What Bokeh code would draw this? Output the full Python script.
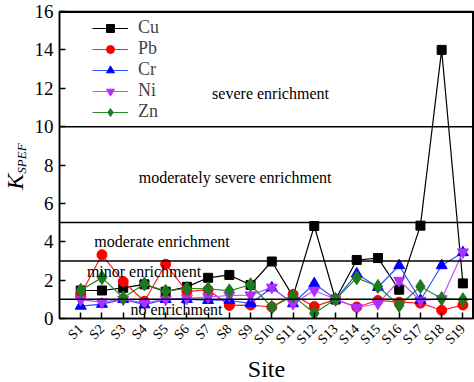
import math
from bokeh.plotting import figure
from bokeh.layouts import row, column
from bokeh.models import Span, Label, FixedTicker, Legend, LegendItem, Range1d
from bokeh.embed import file_html
from bokeh.resources import INLINE

sites = ["S1", "S2", "S3", "S4", "S5", "S6", "S7", "S8", "S9", "S10",
         "S11", "S12", "S13", "S14", "S15", "S16", "S17", "S18", "S19"]
cu = [1.46, 1.46, 1.6, 1.78, 1.4, 1.65, 2.12, 2.27, 1.75, 2.97, 1.15, 4.82, 0.99, 3.05, 3.15, 1.5, 4.84, 14.0, 1.83]
pb = [1.25, 3.32, 1.93, 0.9, 2.83, 1.4, 1.5, 0.68, 0.7, 0.6, 1.25, 0.62, 1.0, 0.6, 0.94, 0.85, 0.8, 0.43, 0.7]
cr = [0.65, 0.75, 1.0, 0.72, 1.0, 1.0, 0.95, 0.95, 0.78, 1.6, 0.78, 1.82, 1.0, 2.33, 1.63, 2.76, 0.95, 2.76, 3.44]
ni = [0.97, 0.85, 1.0, 0.82, 1.0, 1.05, 1.12, 1.2, 1.22, 1.62, 0.77, 1.46, 1.0, 0.56, 0.78, 1.98, 0.94, 1.02, 3.46]
zn = [1.47, 2.13, 1.08, 1.8, 1.42, 1.57, 1.55, 1.44, 1.76, 0.59, 1.18, 0.27, 1.0, 2.12, 1.67, 0.68, 1.67, 1.04, 0.98]
thresholds = [1, 3, 5, 10]
zone_labels = ["severe enrichment", "moderately severe enrichment", "moderate enrichment",
               "minor enrichment", "no enrichment"]

FONT = "'Liberation Serif', serif"
xs = list(range(1, len(sites) + 1))

YL_W = 30      # width of the y-title strip
TOP_H = 355    # height of the main row
X_MAX, Y_MAX = 19.5, 16

p = figure(width=474 - YL_W, height=TOP_H, output_backend="svg", toolbar_location=None,
           x_range=Range1d(0, X_MAX), y_range=Range1d(0, Y_MAX),
           min_border_left=59 - YL_W, min_border_right=1, min_border_top=11,
           min_border_bottom=37)
p.grid.visible = False
p.outline_line_color = "black"
p.outline_line_width = 1.5
p.background_fill_color = "white"

for ax in (p.xaxis[0], p.yaxis[0]):
    ax.axis_line_width = 1.5
    ax.major_tick_in = 6
    ax.major_tick_out = 0
    ax.minor_tick_in = 0
    ax.minor_tick_out = 0
    ax.major_tick_line_width = 1.5
    ax.major_label_text_font = FONT
    ax.major_label_text_color = "black"

p.yaxis.ticker = FixedTicker(ticks=[0, 2, 4, 6, 8, 10, 12, 14, 16])
p.yaxis.major_label_text_font_size = "19px"
p.yaxis.major_label_standoff = 6

p.xaxis.ticker = FixedTicker(ticks=xs)
p.xaxis.major_label_overrides = {i: s for i, s in zip(xs, sites)}
p.xaxis.major_label_orientation = math.pi / 4
p.xaxis.major_label_text_font_size = "14px"
p.xaxis.major_label_standoff = 8

# frame top / right border
p.add_layout(Span(location=Y_MAX, dimension="width", line_color="black", line_width=3))
p.add_layout(Span(location=X_MAX, dimension="height", line_color="black", line_width=3))
for t in thresholds:
    p.add_layout(Span(location=t, dimension="width", line_color="black", line_width=1.5))

series = [
    ("Cu", cu, "black", "black", "square", 9),
    ("Pb", pb, "#ff2020", "#ff0000", "circle", 10),
    ("Cr", cr, "#3050ff", "#0000ff", "triangle", 11),
    ("Ni", ni, "#c050ff", "#b030ff", "inverted_triangle", 11),
    ("Zn", zn, "#2a8a2a", "#1f7a1f", "diamond", 14),
]
items = []
for name, vals, lc, mc, marker, size in series:
    r1 = p.line(xs, vals, line_color=lc, line_width=1.2)
    r2 = p.scatter(xs, vals, marker=marker, size=size, fill_color=mc, line_color=mc)
    items.append(LegendItem(label=name, renderers=[r1, r2]))

legend = Legend(items=items, location=(33, 196), background_fill_alpha=0,
                border_line_alpha=0, padding=0, margin=0, spacing=0,
                glyph_width=36, glyph_height=20, label_height=20,
                label_standoff=10, label_text_font=FONT, label_text_font_size="18px")
p.add_layout(legend)

zone_pos = [(9.94, 11.72), (8.27, 7.35), (4.83, 4.03), (3.98, 2.45), (5.51, 0.45)]
for txt, (x, y) in zip(zone_labels, zone_pos):
    p.add_layout(Label(x=x, y=y, text=txt, text_font=FONT, text_font_size="16px",
                       text_align="center", text_baseline="middle", text_color="black"))


def strip(w, h):
    f = figure(width=w, height=h, output_backend="svg", toolbar_location=None,
               x_range=Range1d(0, w), y_range=Range1d(0, h),
               min_border=0, min_border_left=0, min_border_right=0,
               min_border_top=0, min_border_bottom=0)
    f.axis.visible = False
    f.grid.visible = False
    f.outline_line_color = None
    return f


# y-axis title strip (K with subscript SPEF)
yl = strip(YL_W, TOP_H)
yl.add_layout(Label(x=14, y=TOP_H - 197, text="K", angle=math.pi / 2, text_font=FONT,
                    text_font_style="italic", text_font_size="24px",
                    text_align="center", text_baseline="middle", text_color="black"))
yl.add_layout(Label(x=21, y=TOP_H - 170, text="SPEF", angle=math.pi / 2, text_font=FONT,
                    text_font_style="italic", text_font_size="13px",
                    text_align="center", text_baseline="middle", text_color="black"))

# x-axis title strip
SB_H = 382 - TOP_H
xl = strip(474, SB_H)
xl.add_layout(Label(x=266, y=SB_H - 13, text="Site", text_font=FONT, text_font_size="24px",
                    text_align="center", text_baseline="middle", text_color="black"))

layout = column(row(yl, p, spacing=0), xl, spacing=0)
open("out.html", "w").write(file_html(layout, INLINE))
